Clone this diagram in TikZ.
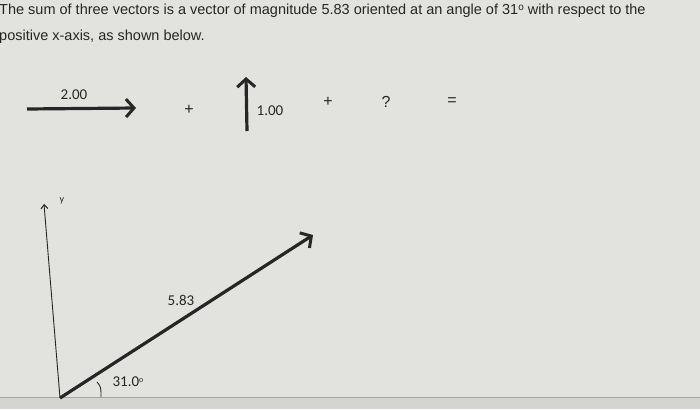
\documentclass[tikz,border=0pt]{standalone}
\usepackage{fontspec}
\setmainfont{Liberation Sans}
\newfontfamily\lbl{Carlito}
\usetikzlibrary{arrows.meta}
\definecolor{bg}{RGB}{226,226,222}
\definecolor{bgbot}{RGB}{212,212,208}
\definecolor{ink}{RGB}{38,38,38}
\begin{document}
\begin{tikzpicture}[x=1pt,y=-1pt,
  vec/.style={draw=ink,line width=3.2pt,-{Straight Barb[length=8pt,width=18pt,line width=3pt]}},
  thin/.style={draw=ink,line width=0.9pt,-{Straight Barb[length=4pt,width=7pt,line width=1pt]}},
  lab/.style={font=\lbl\fontsize{15}{17}\selectfont,text=ink,inner sep=0pt},
  ttl/.style={font=\fontsize{14.5}{17}\selectfont,text=ink,inner sep=0pt,anchor=west},
  op/.style={font=\fontsize{16}{18}\selectfont,text=ink,inner sep=0pt}]
\fill[bg] (0,0) rectangle (700,409);
\useasboundingbox (0,0) rectangle (700,409);
\fill[bgbot] (0,397) rectangle (700,409);
\draw[gray!70,line width=0.6pt] (0,397) -- (700,397);
\node[ttl] (t1) at (-1,11) {The sum of three vectors is a vector of magnitude 5.83 oriented at an angle of 31\raisebox{0.6ex}{\fontsize{10}{10}\selectfont o} with respect to the};
\node[ttl] (t2) at (-1,37) {positive x-axis, as shown below.};
% row
\coordinate (a1s) at (27,109);
\coordinate (a1e) at (136,108);
\draw[vec] (a1s) -- (a1e);
\node[lab] (l2) at (74,95) {2.00};
\node[op] (p1) at (189,110) {+};
\coordinate (a2s) at (247,131);
\coordinate (a2e) at (246,77);
\draw[vec] (a2s) -- (a2e);
\node[lab] (l1) at (270,111) {1.00};
\node[op] (p2) at (328,102) {+};
\node[op] (q) at (386,102) {?};
\node[op] (eq) at (452,102) {=};
% axes
\coordinate (o) at (60,398);
\coordinate (ytop) at (44,204);
\draw[thin] (o) -- (ytop);
\node[lab,font=\lbl\fontsize{10}{11}\selectfont] (ylab) at (62,201) {y};
\coordinate (r) at (313,235);
\draw[vec] (o) -- (r);
\node[lab] (l583) at (181,300) {5.83};
\draw[ink,line width=0.9pt] (97,382) .. controls (101,387) .. (101,397);
\node[lab] (ang) at (128,382) {31.0\raisebox{0.6ex}{\fontsize{8}{8}\selectfont o}};
\end{tikzpicture}
\end{document}
